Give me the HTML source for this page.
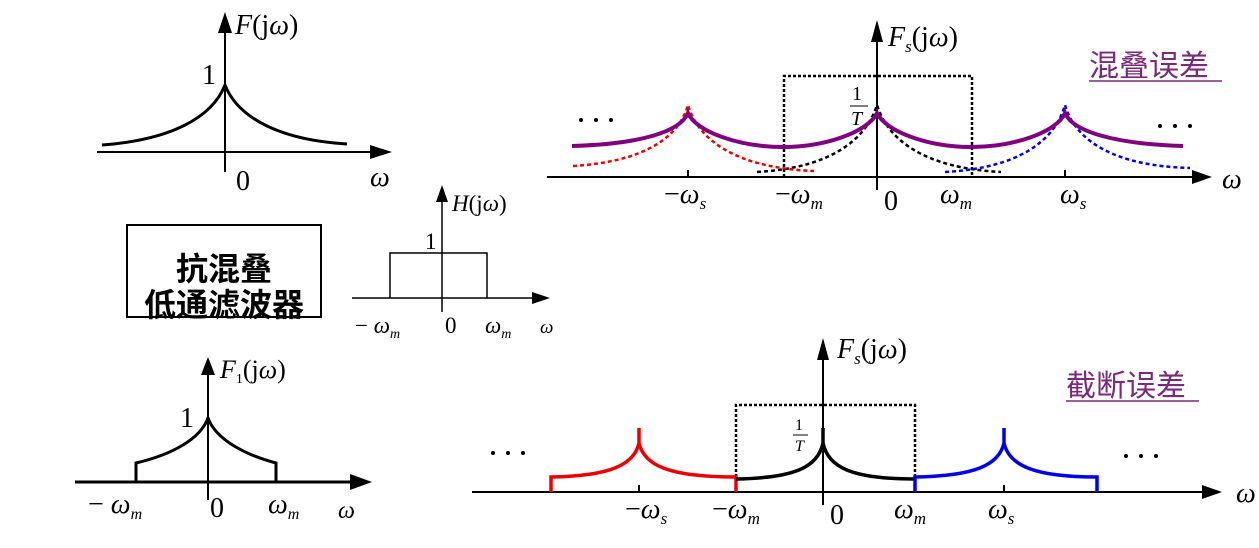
<!DOCTYPE html>
<html><head><meta charset="utf-8"><style>
html,body{margin:0;padding:0;background:#fff;}
svg{display:block;}
text{font-family:"Liberation Serif","Noto Serif CJK SC",serif;}
.i{font-style:italic;}
</style></head><body>
<svg width="1259" height="548" viewBox="0 0 1259 548" xmlns="http://www.w3.org/2000/svg">
<g stroke="#000" stroke-width="2" fill="none">
<line x1="97" y1="152" x2="372" y2="152"/>
<line x1="225" y1="172" x2="225" y2="30"/>
<path d="M102,145 C170,140 212,118 225,85 C238,118 280,140 347,144" stroke-width="3"/>
<line x1="352" y1="298" x2="535" y2="298" stroke-width="1.5"/>
<line x1="442" y1="312" x2="442" y2="200" stroke-width="1.5"/>
<path d="M390,298 L390,253 L487,253 L487,298" stroke-width="1.5"/>
<line x1="75" y1="482" x2="352" y2="482" stroke-width="3"/>
<line x1="208" y1="500" x2="208" y2="372"/>
<path d="M136,482 L136,463 C170,455 200,440 208,418 C216,440 246,455 276,463 L276,482" stroke-width="3"/>
<rect x="127" y="225" width="194" height="92" stroke-width="2"/>
<line x1="547" y1="177" x2="1195" y2="177"/>
<line x1="877" y1="190" x2="877" y2="40"/>
<line x1="688" y1="170" x2="688" y2="177"/>
<line x1="1065" y1="170" x2="1065" y2="177"/>
<path d="M784,177 L784,76 L972,76 L972,177" stroke-dasharray="3,2" stroke-width="2.5"/>
<path d="M757,172 C830,168 866,140 877,105 C888,140 924,168 1001,172" stroke-dasharray="4,3" stroke-width="2.5"/>
<path d="M573,166 C640,162 678,140 688,105 C698,140 736,168 814,171" stroke="#e00" stroke-dasharray="4,3" stroke-width="2.5"/>
<path d="M945,172 C1020,168 1055,140 1065,105 C1075,140 1113,166 1190,168" stroke="#00e" stroke-dasharray="4,3" stroke-width="2.5"/>
<path d="M572,146 C640,144 680,132 688,113 C696,132 740,147 783,147 C825,147 868,132 877,113 C886,132 929,147 971,147 C1014,147 1057,132 1065,113 C1073,132 1116,144 1183,146" stroke="#800080" stroke-width="4"/>
<line x1="472" y1="492" x2="1205" y2="492"/>
<line x1="823" y1="505" x2="823" y2="358"/>
<line x1="639" y1="485" x2="639" y2="492"/>
<line x1="1004" y1="485" x2="1004" y2="492"/>
<path d="M736,492 L736,405 L915,405 L915,492" stroke-dasharray="3,2" stroke-width="2.5"/>
<path d="M551,492 L551,477 C610,476 634,465 639,443 L639,428 M639,443 C644,465 668,477 736,477 L736,492" stroke="#e00" stroke-width="3.5"/>
<path d="M736,479 C795,478 818,467 823,443 L823,428 M823,443 C828,467 851,479 915,479" stroke="#000" stroke-width="3.5"/>
<path d="M915,492 L915,477 C975,476 999,465 1004,443 L1004,428 M1004,443 C1009,465 1033,477 1097,477 L1097,492" stroke="#00e" stroke-width="3.5"/>
</g>
<g fill="#000">
<polygon points="392,152 370,145 370,159"/>
<polygon points="225,12 218,33 232,33"/>
<polygon points="550,298 532,292 532,304"/>
<polygon points="442,185 436,202 448,202"/>
<polygon points="372,482 350,474 350,490"/>
<polygon points="208,357 201,375 215,375"/>
<polygon points="1212,177 1192,170 1192,184"/>
<polygon points="877,20 871,42 883,42"/>
<polygon points="1222,492 1202,485 1202,499"/>
<polygon points="823,338 817,360 829,360"/>
<circle cx="581" cy="120" r="2"/><circle cx="596" cy="120" r="2"/><circle cx="611" cy="120" r="2"/>
<circle cx="1160" cy="126" r="2"/><circle cx="1175" cy="126" r="2"/><circle cx="1190" cy="126" r="2"/>
<circle cx="493" cy="453" r="2"/><circle cx="508" cy="453" r="2"/><circle cx="523" cy="453" r="2"/>
<circle cx="1126" cy="456" r="2"/><circle cx="1141" cy="456" r="2"/><circle cx="1156" cy="456" r="2"/>
</g>
<g font-size="28">
<text x="235" y="34"><tspan class="i">F</tspan>(j<tspan class="i">ω</tspan>)</text>
<text x="202" y="84">1</text>
<text x="236" y="190">0</text>
<text x="370" y="186" class="i">ω</text>
<text x="452" y="211" font-size="23"><tspan class="i">H</tspan>(j<tspan class="i">ω</tspan>)</text>
<text x="425" y="249" font-size="23">1</text>
<text x="355" y="333" font-size="23">− <tspan class="i">ω</tspan><tspan class="i" font-size="14" dy="5">m</tspan></text>
<text x="445" y="333" font-size="23">0</text>
<text x="485" y="333" font-size="23" class="i">ω<tspan font-size="14" dy="5">m</tspan></text>
<text x="540" y="333" font-size="19" class="i">ω</text>
<text x="220" y="378" font-size="26"><tspan class="i">F</tspan><tspan font-size="14" dy="5">1</tspan><tspan dy="-5">(j</tspan><tspan class="i">ω</tspan>)</text>
<text x="180" y="427">1</text>
<text x="210" y="517">0</text>
<text x="88" y="513">− <tspan class="i">ω</tspan><tspan class="i" font-size="16" dy="6">m</tspan></text>
<text x="268" y="513" class="i">ω<tspan font-size="16" dy="6">m</tspan></text>
<text x="338" y="518" class="i" font-size="24">ω</text>
<text x="888" y="46"><tspan class="i">F</tspan><tspan class="i" font-size="17" dy="6">s</tspan><tspan dy="-6">(j</tspan><tspan class="i">ω</tspan>)</text>
<text x="664" y="203">−<tspan class="i">ω</tspan><tspan class="i" font-size="17" dy="6">s</tspan></text>
<text x="775" y="203">−<tspan class="i">ω</tspan><tspan class="i" font-size="17" dy="6">m</tspan></text>
<text x="884" y="210">0</text>
<text x="940" y="203" class="i">ω<tspan font-size="17" dy="6">m</tspan></text>
<text x="1060" y="203" class="i">ω<tspan font-size="17" dy="6">s</tspan></text>
<text x="1222" y="188" class="i">ω</text>
<text x="852" y="100" font-size="20">1</text>
<line x1="850" y1="106" x2="868" y2="106" stroke="#000" stroke-width="1"/>
<text x="851" y="125" font-size="20" class="i">T</text>
<text x="837" y="358"><tspan class="i">F</tspan><tspan class="i" font-size="17" dy="6">s</tspan><tspan dy="-6">(j</tspan><tspan class="i">ω</tspan>)</text>
<text x="625" y="518">−<tspan class="i">ω</tspan><tspan class="i" font-size="17" dy="6">s</tspan></text>
<text x="712" y="518">−<tspan class="i">ω</tspan><tspan class="i" font-size="17" dy="6">m</tspan></text>
<text x="830" y="524">0</text>
<text x="894" y="518" class="i">ω<tspan font-size="17" dy="6">m</tspan></text>
<text x="988" y="518" class="i">ω<tspan font-size="17" dy="6">s</tspan></text>
<text x="1236" y="502" class="i">ω</text>
<text x="795" y="430" font-size="16">1</text>
<line x1="793" y1="435" x2="808" y2="435" stroke="#000" stroke-width="1"/>
<text x="795" y="451" font-size="16" class="i">T</text>
</g>
<text x="224" y="280" font-size="32" font-weight="bold" text-anchor="middle" style="font-family:'Noto Sans CJK SC',sans-serif">抗混叠</text>
<text x="224" y="316" font-size="32" font-weight="bold" text-anchor="middle" style="font-family:'Noto Sans CJK SC',sans-serif">低通滤波器</text>
<text x="1089" y="76" font-size="30" fill="#7a2a7a" style="font-family:'Noto Sans CJK SC',sans-serif">混叠误差</text>
<line x1="1089" y1="81" x2="1222" y2="81" stroke="#7a2a7a" stroke-width="1.5"/>
<text x="1066" y="396" font-size="30" fill="#7a2a7a" style="font-family:'Noto Sans CJK SC',sans-serif">截断误差</text>
<line x1="1066" y1="401" x2="1199" y2="401" stroke="#7a2a7a" stroke-width="1.5"/>
</svg>
</body></html>
